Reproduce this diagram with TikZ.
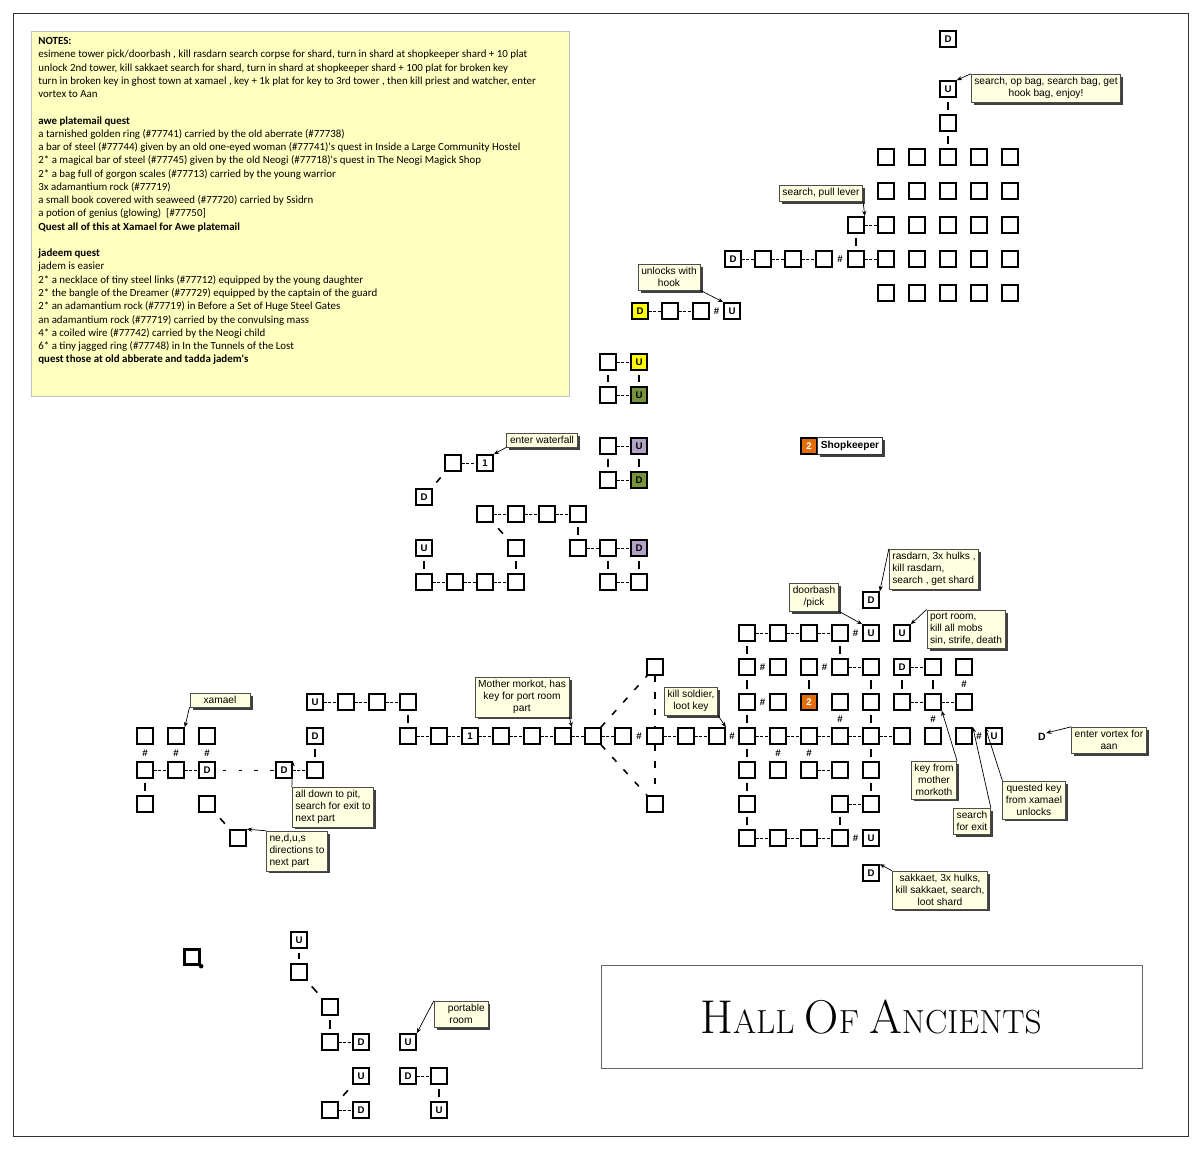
\documentclass[tikz,border=0pt]{standalone}
\usepackage{fontspec}
\setmainfont{Liberation Sans}
\newfontfamily\notefont{Carlito}
\newfontfamily\titlefont{Latin Modern Roman}
\usetikzlibrary{arrows.meta,shadows}
\definecolor{noteyellow}{RGB}{255,255,192}
\definecolor{callyellow}{RGB}{255,255,225}
\definecolor{upyellow}{RGB}{255,255,0}
\definecolor{mossgreen}{RGB}{119,147,60}
\definecolor{lilac}{RGB}{179,162,199}
\definecolor{shoporange}{RGB}{228,108,10}
\begin{document}
\begin{tikzpicture}[x=0.02cm,y=-0.02cm]
\tikzset{ >={Stealth[length=3pt,width=2.4pt]},
  room/.style={draw, line width=1.2pt, minimum size=0.31cm, inner sep=0pt, font=\fontsize{5.5}{6}\selectfont\bfseries},
  dlink/.style={thin, dash pattern=on 1.6pt off 1pt},
  vlink/.style={line width=0.9pt, shorten <=0.08cm, shorten >=0.08cm},
  slash/.style={line width=0.9pt, shorten <=0.15cm, shorten >=0.15cm},
  farlink/.style={line width=0.9pt, dash pattern=on 3.5pt off 6pt},
  lock/.style={font=\fontsize{5.5}{6}\selectfont\bfseries, inner sep=0pt},
  callout/.style={draw=black!70, fill=callyellow, inner sep=1.8pt, align=center,
    font=\fontsize{5.8}{6.8}\selectfont,
    drop shadow={shadow xshift=1.5pt, shadow yshift=-1.5pt, fill=black!75, opacity=1}},
  tip/.style={->, thin},
}
\useasboundingbox (0,0) rectangle (1200,1151);
\draw[black!80, thin] (13,13) rectangle (1188,1136);

%%% Notas
\node[draw=black!25, fill=noteyellow, minimum width=538*0.02cm, minimum height=365*0.02cm, anchor=north west] (notes) at (31,31) {};
\node[anchor=north west, inner sep=0pt, align=left, font=\notefont\fontsize{6.2}{7.55}\selectfont] (notetext) at (38,37) {%
\textbf{NOTES:}\\
esimene tower pick/doorbash , kill rasdarn search corpse for shard, turn in shard at shopkeeper shard + 10 plat\\
unlock 2nd tower, kill sakkaet search for shard, turn in shard at shopkeeper shard + 100 plat for broken key\\
turn in broken key in ghost town at xamael , key + 1k plat for key to 3rd tower , then kill priest and watcher, enter\\
vortex to Aan\\[7.55pt]
\textbf{awe platemail quest}\\
a tarnished golden ring (\#77741) carried by the old aberrate (\#77738)\\
a bar of steel (\#77744) given by an old one-eyed woman (\#77741)'s quest in Inside a Large Community Hostel\\
2* a magical bar of steel (\#77745) given by the old Neogi (\#77718)'s quest in The Neogi Magick Shop\\
2* a bag full of gorgon scales (\#77713) carried by the young warrior\\
3x adamantium rock (\#77719)\\
a small book covered with seaweed (\#77720) carried by Ssidrn\\
a potion of genius (glowing) \ [\#77750]\\
\textbf{Quest all of this at Xamael for Awe platemail}\\[7.55pt]
\textbf{jadeem quest}\\
jadem is easier\\
2* a necklace of tiny steel links (\#77712) equipped by the young daughter\\
2* the bangle of the Dreamer (\#77729) equipped by the captain of the guard\\
2* an adamantium rock (\#77719) in Before a Set of Huge Steel Gates\\
an adamantium rock (\#77719) carried by the convulsing mass\\
4* a coiled wire (\#77742) carried by the Neogi child\\
6* a tiny jagged ring (\#77748) in In the Tunnels of the Lost\\
\textbf{quest those at old abberate and tadda jadem's}};

%%% Torre de cima
\foreach \c [count=\i] in {886,917,948,979,1010}
  \foreach \r [count=\j] in {157,191,225,259,293}
    \node[room] (g\i\j) at (\c,\r) {};
\node[room] (tD) at (948,39) {D};
\node[room] (tU) at (948,89) {U};
\node[room] (t1) at (948,123) {};
\draw[vlink] (tU) -- (t1);
\draw[vlink] (t1) -- (g31);
\node[room] (lev) at (856,225) {};
\draw[dlink] (lev) -- (g13);
\node[room] (rD) at (733,259) {D};
\node[room] (r1) at (763,259) {};
\node[room] (r2) at (793,259) {};
\node[room] (r3) at (824,259) {};
\node[room] (r4) at (856,259) {};
\draw[vlink] (lev) -- (r4);
\draw[dlink] (rD) -- (r1); \draw[dlink] (r1) -- (r2); \draw[dlink] (r2) -- (r3);
\path (r3) -- node[lock] {\#} (r4);
\draw[dlink] (r4) -- (g14);
\node[room, fill=upyellow] (hD) at (640,311) {D};
\node[room] (h1) at (670,311) {};
\node[room] (h2) at (701,311) {};
\node[room] (hU) at (732,311) {U};
\draw[dlink] (hD) -- (h1); \draw[dlink] (h1) -- (h2);
\path (h2) -- node[lock] {\#} (hU);

\node[callout] (cBag) at (1046,88) {search, op bag, search bag, get\\hook bag, enjoy!};
\draw[tip] (cBag.north west) -- (tU.north east);
\node[callout] (cLever) at (821,193) {search, pull lever};
\draw[tip] (cLever.south east) -- (lev.north east);
\node[callout] (cHook) at (669,277) {unlocks with\\hook};
\draw[tip] (cHook.south east) -- (hU.north west);

%%% Escadas coloridas
\node[room] (w1) at (608,362) {};
\node[room, fill=upyellow] (wU1) at (639,362) {U};
\node[room] (w2) at (608,395) {};
\node[room, fill=mossgreen] (wU2) at (639,395) {U};
\draw[dlink] (w1) -- (wU1); \draw[dlink] (w2) -- (wU2);
\draw[vlink] (w1) -- (w2); \draw[vlink] (wU1) -- (wU2);
\node[room] (w3) at (608,446) {};
\node[room, fill=lilac] (wU3) at (639,446) {U};
\node[room] (w4) at (608,480) {};
\node[room, fill=mossgreen] (wD4) at (639,480) {D};
\draw[dlink] (w3) -- (wU3); \draw[dlink] (w4) -- (wD4);
\draw[vlink] (w3) -- (w4); \draw[vlink] (wU3) -- (wD4);

%%% Cachoeira
\node[room] (f1) at (453,463) {};
\node[room] (fN) at (485,463) {1};
\node[room] (fD) at (424,497) {D};
\draw[dlink] (f1) -- (fN);
\draw[slash] (fD) -- (f1);
\node[room] (fa) at (485,514) {};
\node[room] (fb) at (516,514) {};
\node[room] (fc) at (547,514) {};
\node[room] (fd) at (578,514) {};
\draw[dlink] (fa) -- (fb); \draw[dlink] (fb) -- (fc); \draw[dlink] (fc) -- (fd);
\node[room] (fe) at (516,548) {};
\draw[slash] (fa) -- (fe);
\node[room] (fU) at (424,548) {U};
\node[room] (fi) at (424,582) {};
\node[room] (fj) at (455,582) {};
\node[room] (fk) at (485,582) {};
\node[room] (fh) at (516,582) {};
\draw[vlink] (fe) -- (fh); \draw[vlink] (fU) -- (fi);
\draw[dlink] (fi) -- (fj); \draw[dlink] (fj) -- (fk); \draw[dlink] (fk) -- (fh);
\node[room] (fl) at (578,548) {};
\node[room] (fm) at (608,548) {};
\node[room, fill=lilac] (fP) at (639,548) {D};
\node[room] (fn) at (608,582) {};
\node[room] (fo) at (639,582) {};
\draw[vlink] (fd) -- (fl);
\draw[dlink] (fl) -- (fm); \draw[dlink] (fm) -- (fP); \draw[dlink] (fn) -- (fo);
\draw[vlink] (fm) -- (fn); \draw[vlink] (fP) -- (fo);
\node[callout] (cFall) at (542,440) {enter waterfall};
\draw[tip] (cFall.south west) -- (fN.north east);

%%% Legenda
\node[room, fill=shoporange, text=white] (shop2) at (809,446) {2};
\node[draw=black!80, inner sep=2pt, minimum height=0.34cm, anchor=west, font=\fontsize{5.8}{6}\selectfont\bfseries,
  drop shadow={shadow xshift=1.5pt, shadow yshift=-1.5pt, fill=black!75, opacity=1}, fill=white] (shopTxt) at (817,446) {Shopkeeper\hspace{8pt}};

%%% Torre principal
\foreach \c/\cn in {747/A,778/B,809/C,840/D,871/E,902/F,933/G,964/H}
  \foreach \r/\rn in {633/1,667/2,702/3,736/4}
    \node[room] (\cn\rn) at (\c,\r) {};
\fill[white] (910,624) rectangle (975,645);
\node[room] (E1) at (871,633) {U};
\node[room] (F1) at (902,633) {U};
\node[room] (F2) at (902,667) {D};
\node[room, fill=shoporange, text=white] (C3) at (809,702) {2};
\node[room] (I4) at (994,736) {U};
\node[room] (A5) at (747,770) {}; \node[room] (B5) at (778,770) {};
\node[room] (C5) at (809,770) {}; \node[room] (D5) at (840,770) {};
\node[room] (E5) at (871,770) {};
\node[room] (A6) at (747,804) {}; \node[room] (D6) at (840,804) {};
\node[room] (E6) at (871,804) {};
\node[room] (A7) at (747,838) {}; \node[room] (B7) at (778,838) {};
\node[room] (C7) at (809,838) {}; \node[room] (D7) at (840,838) {};
\node[room] (E7) at (871,838) {U};
\node[room] (E0) at (871,600) {D};
\node[room] (E8) at (871,873) {D};

\draw[dlink] (A1) -- (B1); \draw[dlink] (B1) -- (C1); \draw[dlink] (C1) -- (D1);
\path (D1) -- node[lock] {\#} (E1);
\draw[vlink] (A1) -- (A2); \draw[vlink] (D1) -- (D2);
\path (A2) -- node[lock] {\#} (B2);
\path (C2) -- node[lock] {\#} (D2);
\draw[dlink] (D2) -- (E2); \draw[dlink] (F2) -- (G2);
\foreach \n in {A,C,E,F,G} \draw[vlink] (\n2) -- (\n3);
\path (H2) -- node[lock] {\#} (H3);
\path (A3) -- node[lock] {\#} (B3);
\draw[dlink] (F3) -- (G3); \draw[dlink] (G3) -- (H3);
\draw[vlink] (A3) -- (A4); \draw[vlink] (E3) -- (E4);
\path (D3) -- node[lock] {\#} (D4);
\path (G3) -- node[lock] {\#} (G4);
\draw[dlink] (A4) -- (B4); \draw[dlink] (B4) -- (C4); \draw[dlink] (C4) -- (D4);
\draw[dlink] (D4) -- (E4); \draw[dlink] (E4) -- (F4);
\path (H4) -- node[lock] {\#} (I4);
\draw[vlink] (A4) -- (A5); \draw[vlink] (E4) -- (E5);
\path (B4) -- node[lock] {\#} (B5);
\path (C4) -- node[lock] {\#} (C5);
\draw[dlink] (C5) -- (D5);
\draw[vlink] (A5) -- (A6); \draw[vlink] (E5) -- (E6);
\draw[dlink] (D6) -- (E6);
\draw[vlink] (A6) -- (A7); \draw[vlink] (D6) -- (D7);
\draw[dlink] (A7) -- (B7); \draw[dlink] (B7) -- (C7); \draw[dlink] (C7) -- (D7);
\path (D7) -- node[lock] {\#} (E7);

\node[lock, font=\fontsize{6}{6}\selectfont\bfseries] (vD) at (1042,737) {D};

\node[callout] (cBash) at (814,597) {doorbash\\/pick};
\draw[tip] (cBash.south east) -- (E1.north west);
\node[callout, align=left] (cRas) at (934,569) {rasdarn, 3x hulks ,\\kill rasdarn,\\search , get shard};
\draw[tip] (cRas.north west) -- (E0.north east);
\node[callout, align=left] (cPort) at (966,629) {port room,\\kill all mobs\\sin, strife, death};
\draw[tip] (cPort.north west) -- (F1.north east);
\node[callout] (cMork) at (934,780) {key from\\mother\\morkoth};
\draw[tip] (cMork.north east) -- (G3.south east);
\node[callout] (cExit) at (972,821) {search\\for exit};
\draw[tip] (cExit.north east) -- (H4.north east);
\node[callout] (cQuest) at (1034,800) {quested key\\from xamael\\unlocks};
\draw[tip] (cQuest.north west) -- (I4.north west);
\node[callout] (cVortex) at (1109,740) {enter vortex for\\aan};
\draw[tip] (cVortex.north west) -- (vD.north east);
\node[callout] (cSak) at (940,890) {sakkaet, 3x hulks,\\kill sakkaet, search,\\loot shard};
\draw[tip] (cSak.north west) -- (E8.north east);

%%% Corredor
\node[room] (k1) at (623,736) {};
\node[room] (k2) at (655,736) {};
\node[room] (k3) at (686,736) {};
\node[room] (k4) at (717,736) {};
\node[room] (kt) at (655,667) {};
\node[room] (kb) at (655,804) {};
\path (k1) -- node[lock] {\#} (k2);
\draw[dlink] (k2) -- (k3); \draw[dlink] (k3) -- (k4);
\path (k4) -- node[lock] {\#} (A4);
\draw[farlink] (kt) -- (k2); \draw[farlink] (k2) -- (kb);
\foreach \x [count=\i] in {408,439,470,501,532,563,593}
  \node[room] (m\i) at (\x,736) {};
\node[room] (m3) at (470,736) {1};
\foreach \i [evaluate=\i as \j using int(\i+1)] in {1,...,6}
  \draw[dlink] (m\i) -- (m\j);
\draw[dlink] (m7) -- (k1);
\draw[farlink] (m7) -- (kt); \draw[farlink] (m7) -- (kb);
\node[room] (p1) at (315,702) {U};
\node[room] (p2) at (346,702) {};
\node[room] (p3) at (377,702) {};
\node[room] (p4) at (408,702) {};
\draw[dlink] (p1) -- (p2); \draw[dlink] (p2) -- (p3); \draw[dlink] (p3) -- (p4);
\draw[vlink] (p4) -- (m1);
\node[callout] (cMother) at (522,697) {Mother morkot, has\\key for port room\\part};
\draw[tip] (cMother.south east) -- (m6.north east);
\node[callout] (cSoldier) at (691,701) {kill soldier,\\loot key};
\draw[tip] (cSoldier.south east) -- (k4.north east);

%%% Cidade fantasma
\node[room] (x1) at (145,736) {};
\node[room] (x2) at (176,736) {};
\node[room] (x3) at (207,736) {};
\node[room] (y1) at (145,770) {};
\node[room] (y2) at (176,770) {};
\node[room] (yD) at (207,770) {D};
\node[room] (zD) at (284,770) {D};
\node[room] (z1) at (315,770) {};
\node[room] (zU) at (315,736) {D};
\node[room] (q1) at (145,804) {};
\node[room] (q2) at (207,804) {};
\node[room] (q3) at (238,838) {};
\path (x1) -- node[lock] {\#} (y1);
\path (x2) -- node[lock] {\#} (y2);
\path (x3) -- node[lock] {\#} (yD);
\draw[dlink] (y1) -- (y2); \draw[dlink] (y2) -- (yD);
\draw[thin, dash pattern=on 2pt off 7pt, dash phase=-4pt] (yD) -- (zD);
\draw[dlink] (zD) -- (z1);
\draw[vlink] (zU) -- (z1); \draw[vlink] (y1) -- (q1);
\draw[slash] (q2) -- (q3);
\node[callout] (cXam) at (220,700) {\hspace{6pt}xamael\hspace{6pt}};
\draw[tip] (cXam.south west) -- (x2.north east);
\node[callout, align=left] (cPit) at (333,807) {all down to pit,\\search for exit to\\next part};
\draw[tip] (cPit.north west) -- (zD.north east);
\node[callout, align=left] (cNe) at (297,851) {ne,d,u,s\\directions to\\next part};
\draw[tip] (cNe.north west) -- (q3.north east);

%%% Canto de baixo
\node[room, line width=1.6pt] (s0) at (192,957) {};
\fill (s0.south east) circle (1.3pt);
\node[room] (b1) at (299,940) {U};
\node[room] (b2) at (299,972) {};
\node[room] (b3) at (330,1007) {};
\node[room] (b4) at (330,1042) {};
\node[room] (bD) at (361,1042) {D};
\node[room] (bU) at (408,1042) {U};
\node[room] (c1) at (361,1076) {U};
\node[room] (c2) at (330,1110) {};
\node[room] (cD) at (361,1110) {D};
\node[room] (dD) at (408,1076) {D};
\node[room] (d1) at (439,1076) {};
\node[room] (dU) at (439,1110) {U};
\draw[vlink] (b1) -- (b2); \draw[slash] (b2) -- (b3);
\draw[vlink] (b3) -- (b4); \draw[dlink] (b4) -- (bD);
\draw[slash] (c1) -- (c2); \draw[dlink] (c2) -- (cD);
\draw[dlink] (dD) -- (d1); \draw[vlink] (d1) -- (dU);
\node[callout] (cPortable) at (461,1014) {\hspace{6pt}portable\hspace{6pt}\\room};
\draw[tip] (cPortable.north west) -- (bU.north east);

%%% Titulo
\node[draw=black!60, minimum width=541*0.02cm, minimum height=103*0.02cm, anchor=north west] (titleBox) at (601,965) {};
\node[font=\titlefont] (title) at (871,1017) {\fontsize{27}{28}\selectfont H\fontsize{19}{28}\selectfont ALL\ \fontsize{27}{28}\selectfont O\fontsize{19}{28}\selectfont F\ \fontsize{27}{28}\selectfont A\fontsize{19}{28}\selectfont NCIENTS};

\end{tikzpicture}
\end{document}
